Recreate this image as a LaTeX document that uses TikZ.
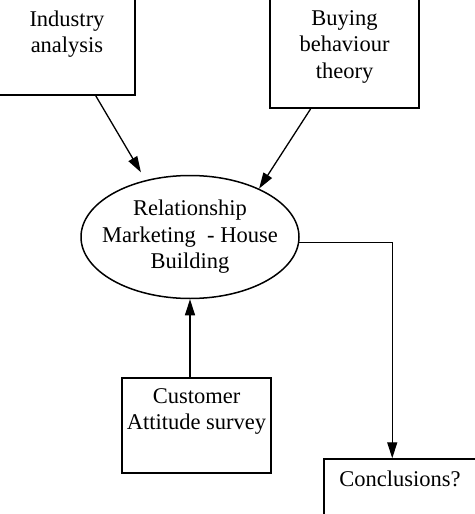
\documentclass[tikz,border=0pt]{standalone}
\usepackage{fontspec}
\setmainfont{Liberation Serif}
\usetikzlibrary{shapes.geometric, arrows.meta}

\begin{document}
\begin{tikzpicture}[x=1pt, y=-1pt, font=\fontsize{22.5}{26.5}\selectfont,
        box/.style={rectangle, draw, line width=1.5pt, inner sep=0pt},
        boxtext/.style={anchor=north, align=center, inner sep=0pt},
        link/.style={line width=1.3pt, -{Triangle[length=16pt, width=10pt]}}]
        \useasboundingbox (0, 0) rectangle (474, 514);

        \node[box, minimum width=136pt, minimum height=98pt, label={[boxtext, yshift=-14pt]north:Industry\\analysis}] at (67, 46) (industry) {};
        \node[box, minimum width=149pt, minimum height=111pt, label={[boxtext, yshift=-14pt]north:Buying\\behaviour\\theory}] at (344.5, 52.5) (buying) {};
        \node[box, minimum width=149pt, minimum height=95pt, label={[boxtext, yshift=-11pt]north:Customer\\Attitude survey}] at (196.5, 425.5) (customer) {};
        \node[box, minimum width=152pt, minimum height=62pt, label={[boxtext, yshift=-12pt]north:Conclusions?}] at (400, 490) (conclusions) {};
        \node[ellipse, draw, line width=1.5pt, minimum width=218pt, minimum height=123pt, inner sep=0pt,
            label={[align=center, inner sep=0pt]center:Relationship\\Marketing~ - House\\Building}] at (190, 237) (rel) {};

        \draw[link, shorten >=9pt] (industry.-60) -- (rel.128);
        \draw[link] (buying.-121) -- (rel.35);
        \draw[link] (customer.north -| rel.south) -- (rel.south);
        \draw[link] (rel.-3) -| ([xshift=69pt]conclusions.north west);
    \end{tikzpicture}
\end{document}
